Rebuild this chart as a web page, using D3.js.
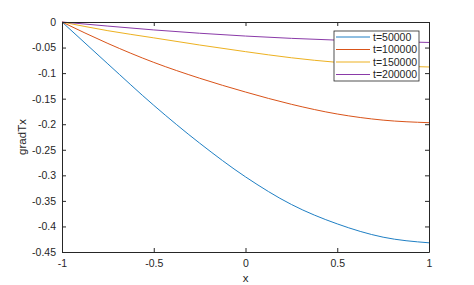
<!DOCTYPE html>
<html>
<head>
<meta charset="utf-8">
<script src="https://cdn.jsdelivr.net/npm/d3@7"></script>
<style>
  html, body { margin: 0; padding: 0; background: #fff; }
  svg { display: block; font-family: "Liberation Sans", Arial, sans-serif; }
</style>
</head>
<body>
<svg id="chart" width="474" height="285"></svg>
<script>
// ---- Data ----
const xs = [-1, -0.75, -0.5, -0.25, 0, 0.25, 0.5, 0.75, 1];
const t50000 = [0, -0.082, -0.163, -0.237, -0.303, -0.357, -0.395, -0.421, -0.432];
const t100000 = [0, -0.042, -0.079, -0.110, -0.137, -0.161, -0.180, -0.192, -0.197];
const t150000 = [0, -0.017, -0.031, -0.045, -0.058, -0.070, -0.079, -0.085, -0.088];
const t200000 = [0, -0.008, -0.0155, -0.022, -0.0275, -0.032, -0.0355, -0.038, -0.040];
const seriesNames = ["t=50000", "t=100000", "t=150000", "t=200000"];
const xTicks = [-1, -0.5, 0, 0.5, 1];
const yTicks = [0, -0.05, -0.1, -0.15, -0.2, -0.25, -0.3, -0.35, -0.4, -0.45];

const colors = ["#1f7fc4", "#D95319", "#EDB120", "#8a3aa8"];
const allSeries = [t50000, t100000, t150000, t200000];

const margin = { left: 62, right: 45, top: 22, bottom: 33 };
const width = 474, height = 285;

const svg = d3.select("#chart");

const x = d3.scaleLinear().domain([-1, 1]).range([margin.left, width - margin.right]);
const y = d3.scaleLinear().domain([-0.45, 0]).range([height - margin.bottom, margin.top]);

const axisColor = "#262626";
const fmt = (d) => String(d);

// curves
const line = d3.line()
  .x((d) => x(d[0]))
  .y((d) => y(d[1]))
  .curve(d3.curveMonotoneX);

allSeries.forEach((vals, i) => {
  svg.append("path")
    .datum(xs.map((xv, k) => [xv, vals[k]]))
    .attr("fill", "none")
    .attr("stroke", colors[i])
    .attr("stroke-width", 1)
    .attr("d", line);
});

// axes (box with inward ticks, MATLAB style)
const tickLen = 4;
const gx = svg.append("g").attr("transform", `translate(0,${y(-0.45)})`)
  .call(d3.axisBottom(x).tickValues(xTicks).tickFormat(fmt).tickSizeInner(-tickLen).tickSizeOuter(0).tickPadding(8));
const gxTop = svg.append("g").attr("transform", `translate(0,${y(0)})`)
  .call(d3.axisTop(x).tickValues(xTicks).tickFormat("").tickSizeInner(-tickLen).tickSizeOuter(0));
const gy = svg.append("g").attr("transform", `translate(${x(-1)},0)`)
  .call(d3.axisLeft(y).tickValues(yTicks).tickFormat(fmt).tickSizeInner(-tickLen).tickSizeOuter(0).tickPadding(6));
const gyRight = svg.append("g").attr("transform", `translate(${x(1)},0)`)
  .call(d3.axisRight(y).tickValues(yTicks).tickFormat("").tickSizeInner(-tickLen).tickSizeOuter(0));

[gx, gxTop, gy, gyRight].forEach((g) => {
  g.select(".domain").attr("stroke", axisColor).attr("stroke-width", 1);
  g.selectAll(".tick line").attr("stroke", axisColor);
  g.selectAll(".tick text").attr("fill", axisColor).attr("font-size", 10.5)
    .attr("font-family", "Liberation Sans, Arial, sans-serif");
});

// axis labels
svg.append("text")
  .attr("x", x(0)).attr("y", 282)
  .attr("text-anchor", "middle")
  .attr("font-size", 11.5).attr("fill", axisColor)
  .text("x");

svg.append("text")
  .attr("transform", `translate(26,${(y(0) + y(-0.45)) / 2}) rotate(-90)`)
  .attr("text-anchor", "middle")
  .attr("font-size", 11.5).attr("fill", axisColor)
  .text("gradTx");

// legend
const legend = svg.append("g").attr("transform", "translate(334,31)");
legend.append("rect")
  .attr("width", 85).attr("height", 50)
  .attr("fill", "#fff").attr("stroke", axisColor).attr("stroke-width", 0.8);

seriesNames.forEach((name, i) => {
  const ly = 6 + i * 12.5;
  legend.append("line")
    .attr("x1", 2).attr("x2", 36).attr("y1", ly).attr("y2", ly)
    .attr("stroke", colors[i]).attr("stroke-width", 1);
  legend.append("text")
    .attr("x", 39).attr("y", ly + 3.8)
    .attr("font-size", 10.5).attr("fill", axisColor)
    .text(name);
});
</script>
</body>
</html>
